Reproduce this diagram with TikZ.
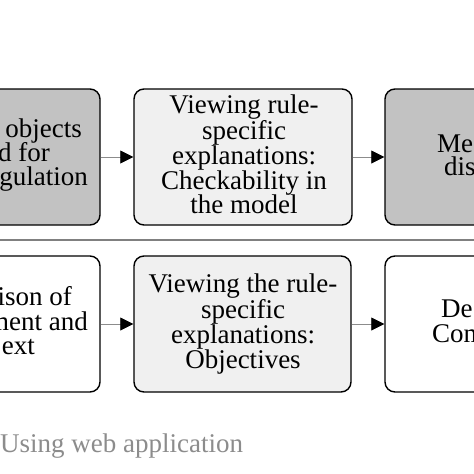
\documentclass[tikz,border=0pt]{standalone}
\usepackage{fontspec}
\setmainfont{Liberation Serif}
\usetikzlibrary{arrows.meta}
\begin{document}
\begin{tikzpicture}[x=1pt,y=-1pt,
  box/.style={draw=black,line width=1.4pt,rounded corners=10pt,minimum height=136pt,inner sep=0pt},
  dark/.style={box,fill=black!24},
  light/.style={box,fill=black!6},
  plain/.style={box,fill=white},
  txt/.style={font=\fontsize{27}{24.8}\selectfont,align=center},
  frag/.style={font=\fontsize{27}{24.8}\selectfont,inner sep=0pt},
  conn/.style={draw=black!45,line width=0.8pt,-{Triangle[length=13pt,width=13pt,color=black]}},
  rule/.style={draw=black!50,line width=1.5pt},
  caption/.style={font=\fontsize{27}{24.8}\selectfont,text=black!45,inner sep=0pt}
]
\useasboundingbox (0,0) rectangle (474,474);
\clip (0,0) rectangle (474,474);
\fill[white] (0,0) rectangle (474,474);

% top row
\node[dark,minimum width=220pt] (tl) at (-10,157) {};
\node[light,minimum width=218pt] (tm) at (243,157) {};
\node[txt,inner sep=0pt] (tmt) at (244,154.5) {Viewing rule-\\specific\\explanations:\\Checkability in\\the model};
\node[dark,minimum width=220pt] (tr) at (495,157) {};

\node[frag,anchor=base east] (tl1) at (82,137) {objects};
\node[frag,anchor=base east] (tl2) at (50,161) {d for};
\node[frag,anchor=base east] (tl3) at (88,185) {gulation};
\node[frag,anchor=base west] (tr1) at (437,152) {Me};
\node[frag,anchor=base west] (tr2) at (444,175) {dis};

\draw[conn] (tl.east) -- (tm.west);
\draw[conn] (tm.east) -- (tr.west);

% separator
\draw[rule] (0,240) -- (474,240);

% bottom row
\node[plain,minimum width=220pt] (bl) at (-10,324) {};
\node[light,minimum width=217pt] (bm) at (242.5,324) {};
\node[txt,inner sep=0pt] (bmt) at (243,324) {Viewing the rule-\\specific\\explanations:\\Objectives};
\node[plain,minimum width=220pt] (br) at (495,324) {};

\node[frag,anchor=base east] (bl1) at (72,305) {ison of};
\node[frag,anchor=base east] (bl2) at (88,330) {ment and};
\node[frag,anchor=base east] (bl3) at (35,354) {ext};
\node[frag,anchor=base west] (br1) at (441,317) {De};
\node[frag,anchor=base west] (br2) at (432,342) {Com};

\draw[conn] (bl.east) -- (bm.west);
\draw[conn] (bm.east) -- (br.west);

\node[caption,anchor=base west] (cap) at (0,452) {Using web application};
\end{tikzpicture}
\end{document}
